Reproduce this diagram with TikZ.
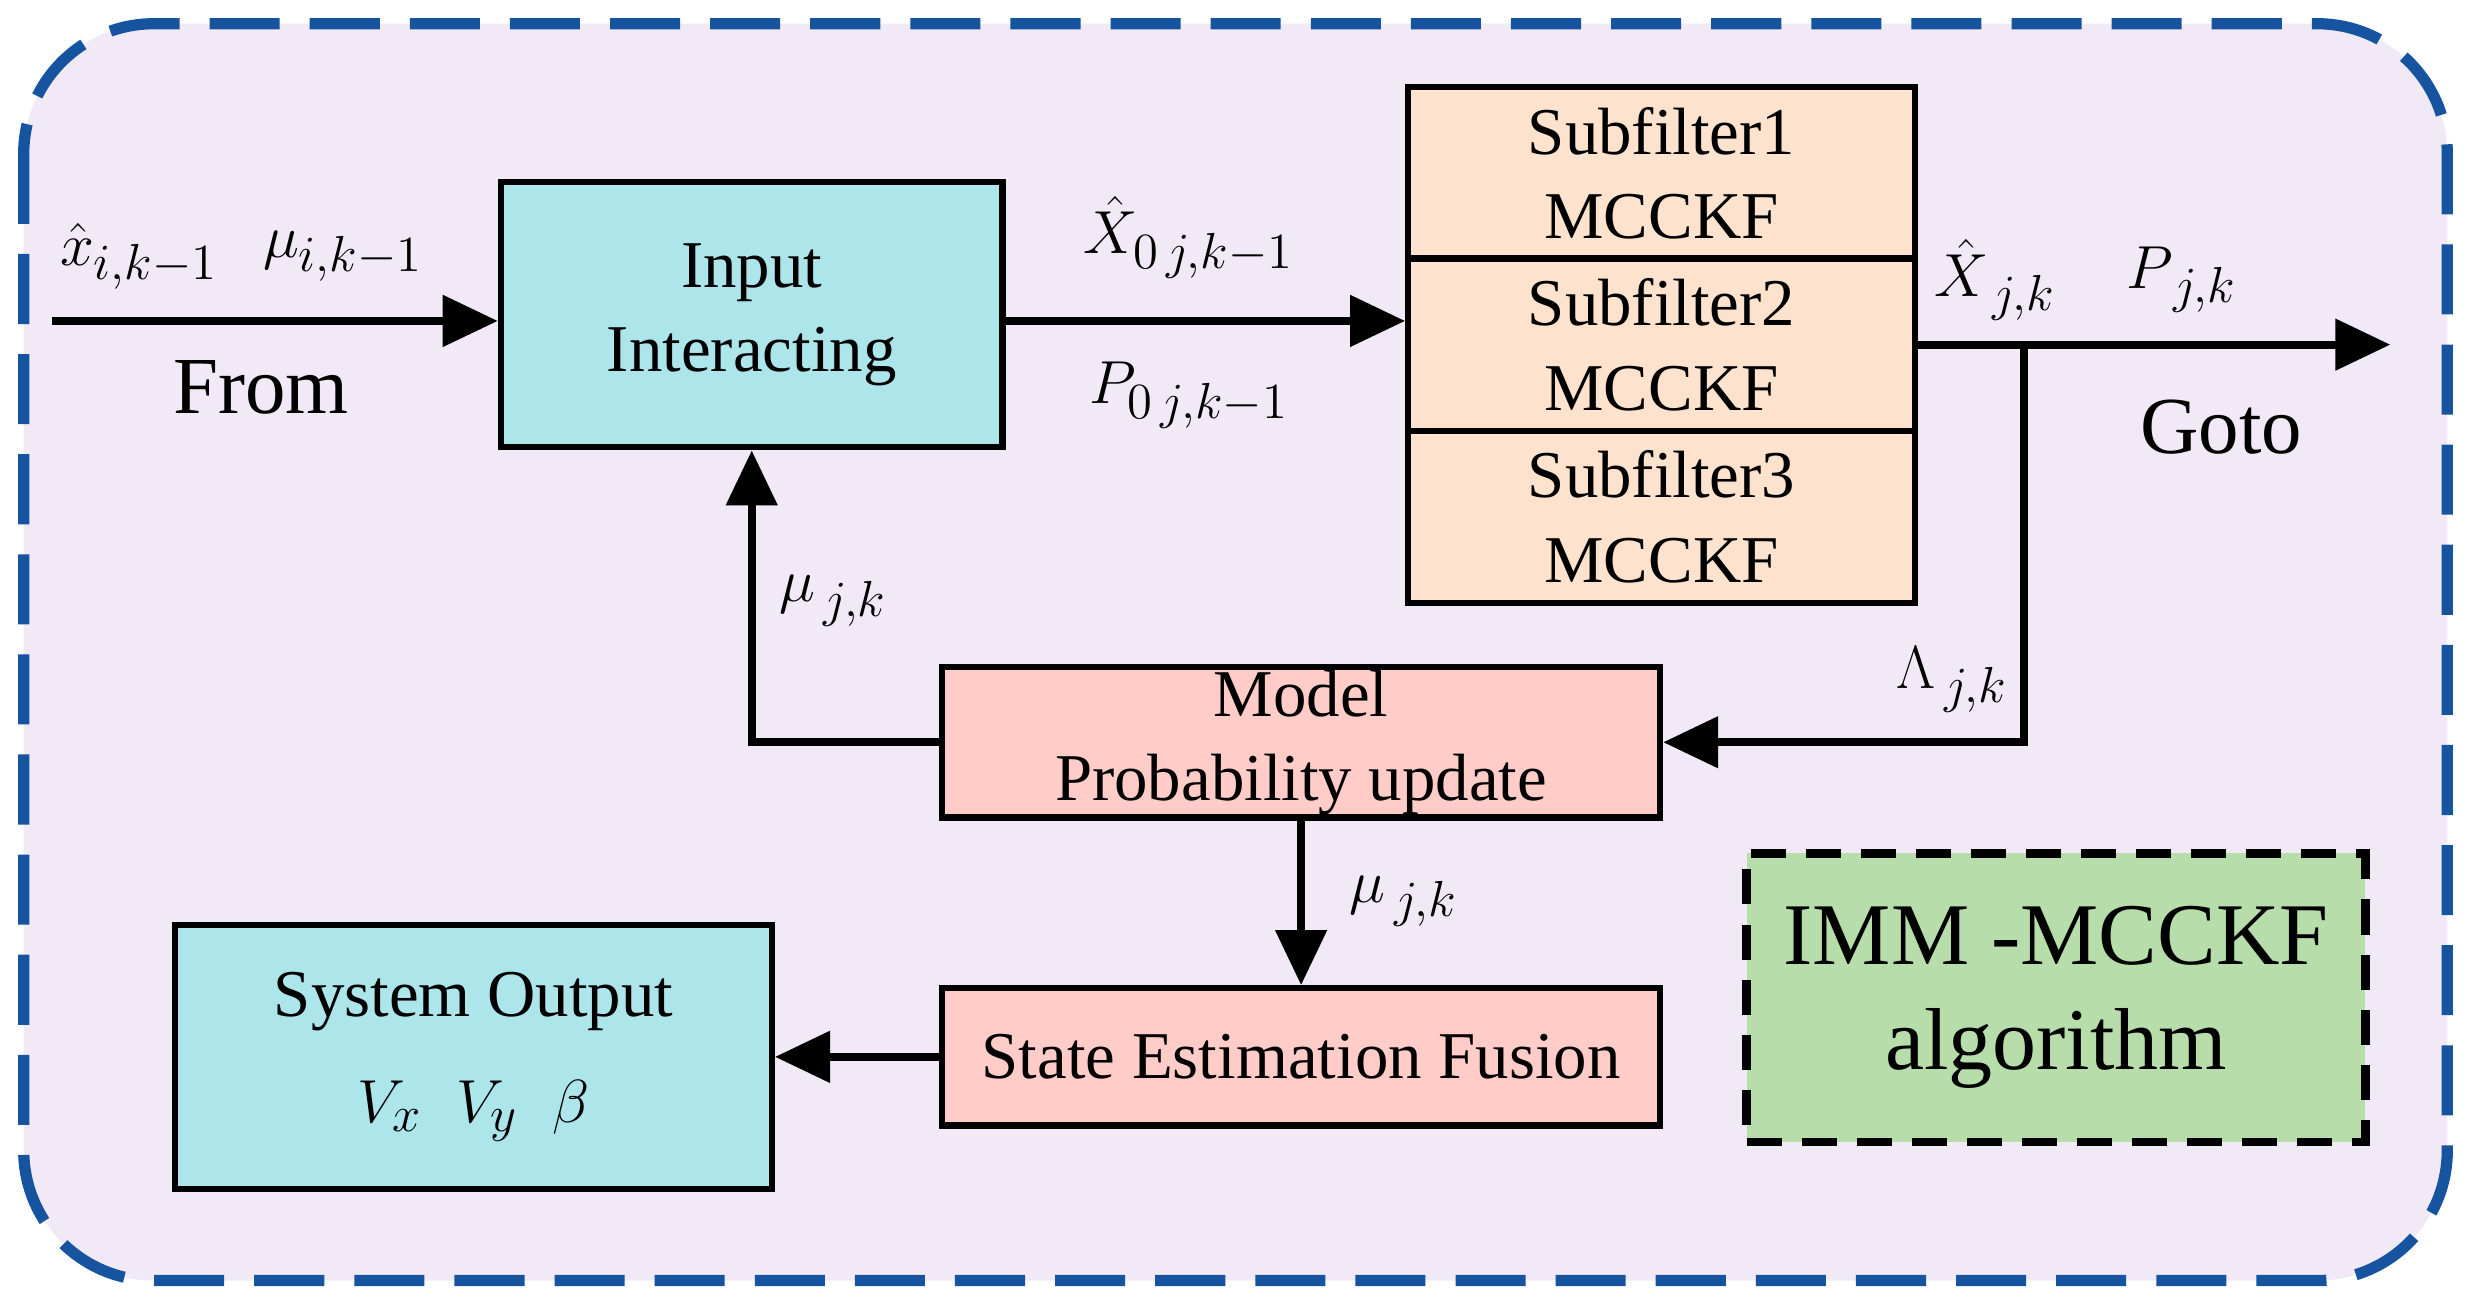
\documentclass[tikz,border=0pt]{standalone}
\usepackage{fontspec}
\setmainfont{Liberation Serif}
\usetikzlibrary{arrows.meta}
\definecolor{frameblue}{RGB}{22,84,160}
\definecolor{bgpurple}{RGB}{242,233,246}
\definecolor{boxcyan}{RGB}{172,229,234}
\definecolor{boxpeach}{RGB}{253,226,205}
\definecolor{boxpink}{RGB}{255,204,200}
\definecolor{boxgreen}{RGB}{183,222,170}
\tikzset{
  blk/.style={draw, line width=1.8pt, align=center, inner sep=0pt, font=\fontsize{19}{24}\selectfont},
  flow/.style={line width=2.3pt, -{Triangle[length=0.55cm,width=0.5cm]}},
  lab/.style={font=\fontsize{19}{24}\selectfont},
  big/.style={font=\fontsize{23}{28}\selectfont}
}
\begin{document}
\begin{tikzpicture}[x=0.0158cm,y=-0.0158cm]
\useasboundingbox (0,0) rectangle (1563,826);
% frame
\draw[frameblue, fill=bgpurple, line width=3.2pt, dash pattern=on 0.7cm off 0.3cm, rounded corners=1.3cm] (15,15) rectangle (1548,810);

% blocks
\node[blk, fill=boxcyan, minimum width=5.01cm, minimum height=2.65cm] (input) at (475.5,199) {Input\\Interacting};
\node[blk, fill=boxpeach, minimum width=5.06cm, minimum height=1.72cm] (sub1) at (1051,109.5) {Subfilter1\\MCCKF};
\node[blk, fill=boxpeach, minimum width=5.06cm, minimum height=1.72cm] (sub2) at (1051,218) {Subfilter2\\MCCKF};
\node[blk, fill=boxpeach, minimum width=5.06cm, minimum height=1.72cm] (sub3) at (1051,327) {Subfilter3\\MCCKF};
\node[blk, fill=boxpink, minimum width=7.17cm, minimum height=1.50cm] (model) at (823,469.5) {Model\\Probability update};
\node[blk, fill=boxpink, minimum width=7.17cm, minimum height=1.37cm] (fusion) at (823,668.5) {State Estimation Fusion};
\node[blk, fill=boxcyan, minimum width=5.96cm, minimum height=2.64cm] (sysout) at (299.5,668.5) {System Output\\[6pt] $V_x\;\; V_y\;\; \beta$};
\node[blk, fill=boxgreen, dash pattern=on 0.35cm off 0.2cm, line width=2.4pt, minimum width=6.18cm, minimum height=2.88cm, font=\fontsize{25}{30}\selectfont] (imm) at (1300.5,631) {IMM -MCCKF\\algorithm};

% connectors
\coordinate (start) at (33,203);
\coordinate (goto) at (1512,218);
\coordinate (branch) at (1280,218);
\draw[flow] (start) -- (input.west |- start);
\draw[flow] (input.east |- start) -- (sub1.west |- start);
\draw[flow] (sub2.east) -- (goto);
\draw[flow] (branch) |- (model.east);
\draw[flow] (model.west) -| (input.south);
\draw[flow] (model.south) -- (fusion.north);
\draw[flow] (fusion.west) -- (sysout.east);

% labels
\node[lab] (lx) at (88,162) {$\hat{x}_{i,k-1}$};
\node[lab] (lmu) at (217,162) {$\mu_{i,k-1}$};
\node[big] (lfrom) at (165,245) {From};
\node[lab] (lX0) at (752,150) {$\hat{X}_{0\,j,k-1}$};
\node[lab] (lP0) at (752,250) {$P_{0\,j,k-1}$};
\node[lab] (lX) at (1262,177) {$\hat{X}_{\,j,k}$};
\node[lab] (lP) at (1380,177) {$P_{\,j,k}$};
\node[big] (lgoto) at (1405,270) {Goto};
\node[lab] (lmu1) at (527,380) {$\mu_{\,j,k}$};
\node[lab] (llam) at (1235,430) {$\Lambda_{\,j,k}$};
\node[lab] (lmu2) at (888,570) {$\mu_{\,j,k}$};
\end{tikzpicture}
\end{document}
